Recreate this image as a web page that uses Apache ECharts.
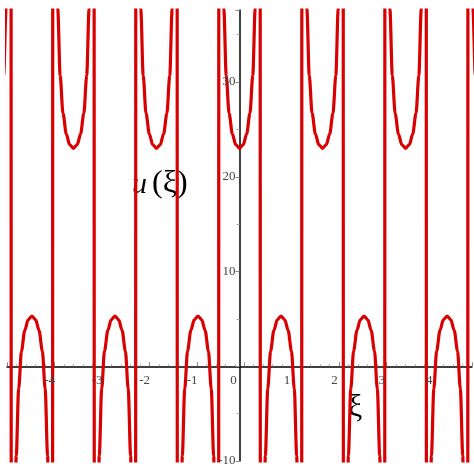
<!DOCTYPE html>
<html><head><meta charset="utf-8">
<script src="https://cdn.jsdelivr.net/npm/echarts@6/dist/echarts.min.js"></script>
<style>html,body{margin:0;padding:0;background:#fff}#c{width:474px;height:474px}</style>
</head><body><div id="c"></div>
<script>
// branch shape (offset from branch centre, value)
const offsets = [-0.43,-0.40,-0.37,-0.33,-0.28,-0.22,-0.15,-0.08,0,0.08,0.15,0.22,0.28,0.33,0.37,0.40,0.43];
const upperValues = [150,80,51,37.7,30.7,26.7,24.5,23.4,23,23.4,24.5,26.7,30.7,37.7,51,80,150];
const lowerValues = [-120,-52,-22.7,-9.4,-2.4,1.6,3.8,4.9,5.3,4.9,3.8,1.6,-2.4,-9.4,-22.7,-52,-120];
const upperCenters = [-5.25,-3.5,-1.75,0,1.75,3.5,5.25];
const lowerCenters = [-4.375,-2.625,-0.875,0.875,2.625,4.375];
const xTicks = [-4,-3,-2,-1,0,1,2,3,4];
const yTicks = [-10,10,20,30];

const pts = [];
upperCenters.forEach(c=>offsets.forEach((o,i)=>pts.push([c+o,upperValues[i]])));
lowerCenters.forEach(c=>offsets.forEach((o,i)=>pts.push([c+o,lowerValues[i]])));
pts.sort((a,b)=>a[0]-b[0]);

const ch = echarts.init(document.getElementById('c'));
ch.setOption({
  animation:false,
  grid:{left:7,right:2,top:10,bottom:13,outerBoundsMode:'none',containLabel:false},
  xAxis:{type:'value',min:-4.9,max:4.9,interval:1,
    axisLine:{onZero:true,lineStyle:{color:'#000',width:1.5}},
    axisTick:{show:true,length:4,inside:true,lineStyle:{color:'#888'}},
    minorTick:{show:true,splitNumber:5,length:2,lineStyle:{color:'#aaa'}},
    splitLine:{show:false},axisLabel:{show:false}},
  yAxis:{type:'value',min:-10,max:37.6,interval:10,
    axisLine:{onZero:true,lineStyle:{color:'#000',width:1.5}},
    axisTick:{show:true,length:4,lineStyle:{color:'#888'}},
    minorTick:{show:true,splitNumber:2,length:3,lineStyle:{color:'#aaa'}},
    splitLine:{show:false},axisLabel:{show:false}},
  series:[{type:'line',showSymbol:false,clip:true,smooth:0.3,smoothMonotone:'x',
    lineStyle:{color:'#d80000',width:3.2},data:pts}]
});
const g = [
  {type:'text',left:132,top:170,style:{text:'u',font:'italic 30px "Liberation Serif"',fill:'#000'}},
  {type:'text',left:152,top:168,style:{text:'(ξ)',font:'32px "Liberation Serif"',fill:'#000'}},
  {type:'text',left:348,top:392,style:{text:'ξ',font:'32px "Liberation Serif"',fill:'#000'}}
];
xTicks.forEach(v=>{
  const p = ch.convertToPixel({gridIndex:0},[v,0]);
  g.push({type:'text',x:p[0]-(v===0?6:0),y:p[1]+8,z:10,style:{text:String(v),align:'center',verticalAlign:'top',font:'13px "Liberation Serif"',fill:'#444'}});
});
yTicks.forEach(v=>{
  const p = ch.convertToPixel({gridIndex:0},[0,v]);
  g.push({type:'text',x:p[0]-4,y:p[1],z:10,style:{text:String(v),align:'right',verticalAlign:'middle',font:'13px "Liberation Serif"',fill:'#444'}});
});
ch.setOption({graphic:g});
</script></body></html>
